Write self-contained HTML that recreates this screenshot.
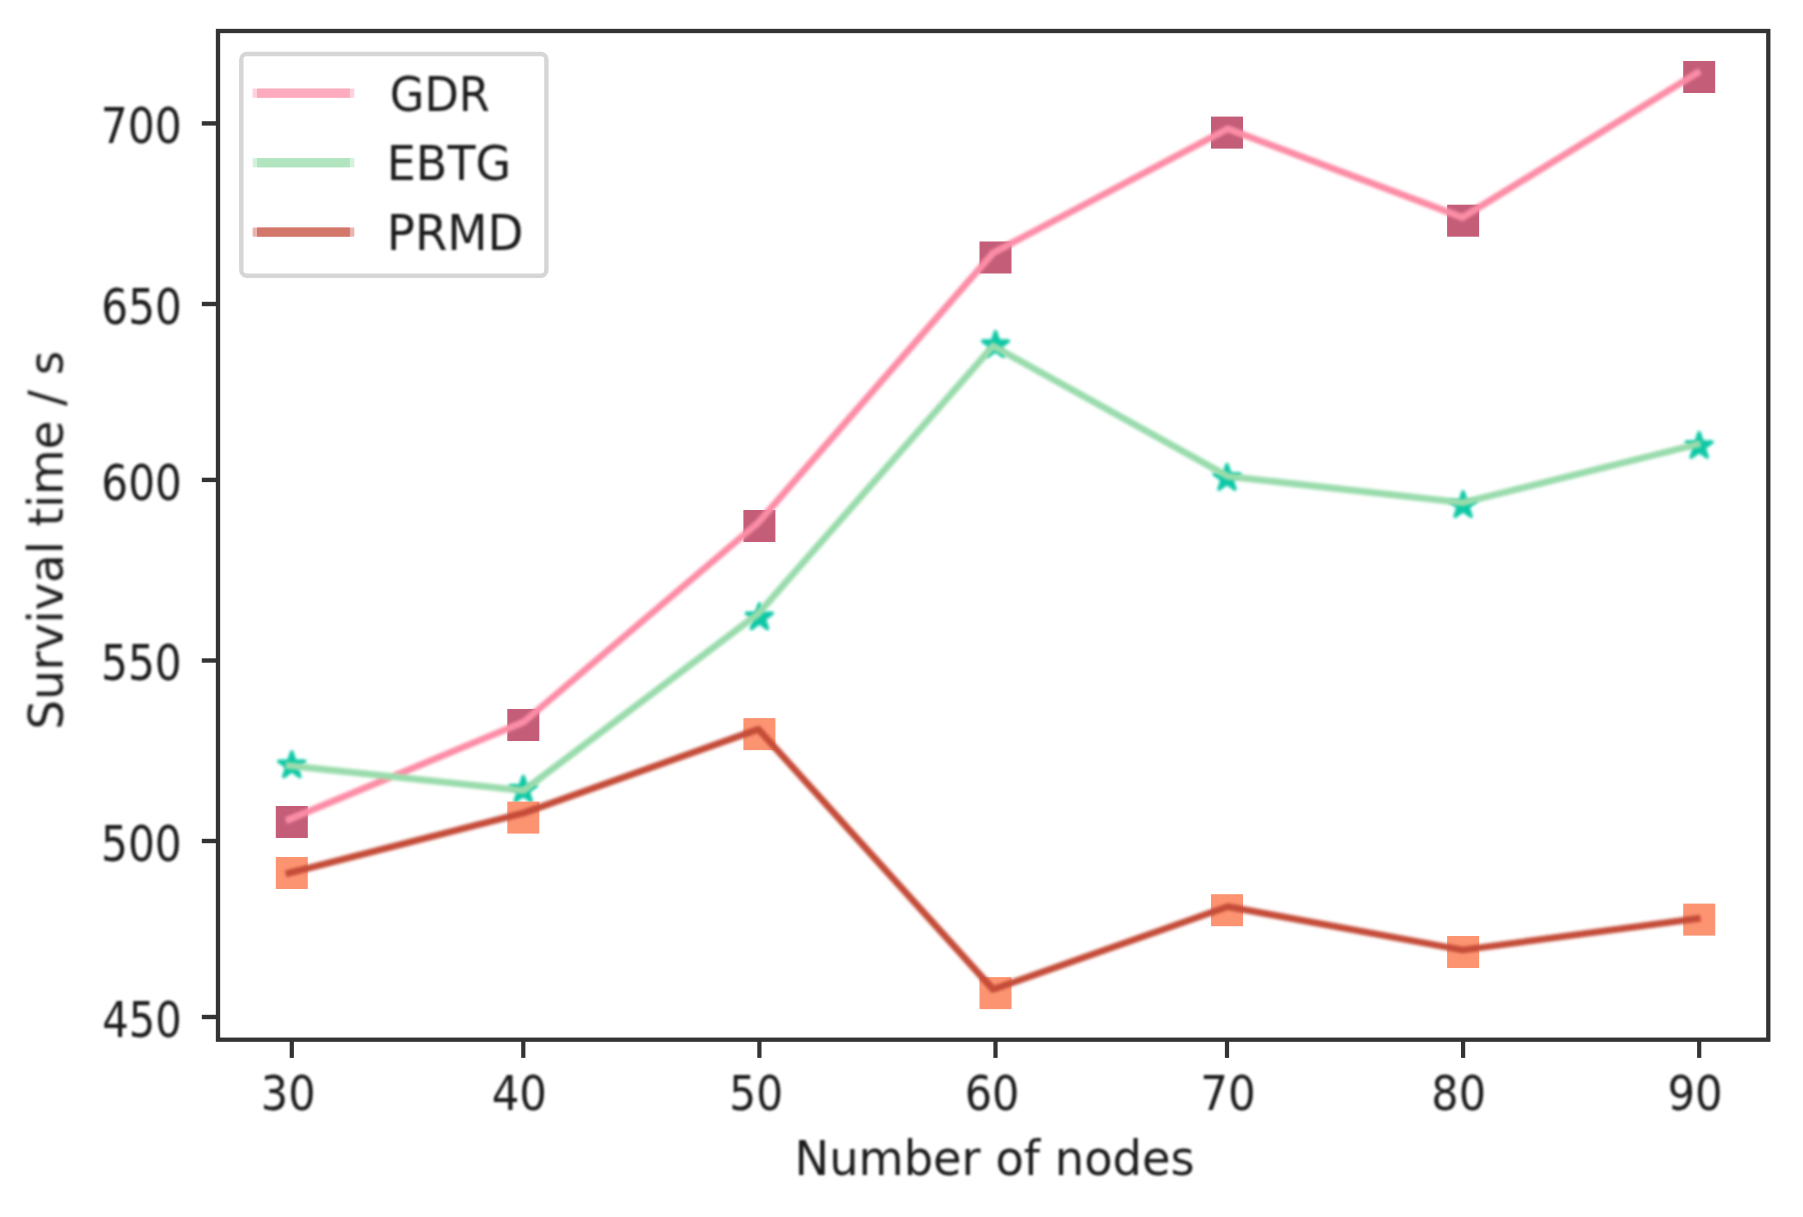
<!DOCTYPE html>
<html><head><meta charset="utf-8"><title>Survival time vs number of nodes</title>
<style>
html,body{margin:0;padding:0;background:#fff;}
body{width:1803px;height:1217px;overflow:hidden;}
svg{display:block;}
svg text{font-family:"DejaVu Sans","Liberation Sans",sans-serif;font-size:100px;}
</style></head><body>
<svg width="1803" height="1217" viewBox="0 0 1803 1217">
<defs>
<filter id="softT" filterUnits="userSpaceOnUse" x="0" y="0" width="1803" height="1217"><feGaussianBlur stdDeviation="1.0"/></filter>
<filter id="softL" filterUnits="userSpaceOnUse" x="0" y="0" width="1803" height="1217"><feGaussianBlur stdDeviation="1.5"/></filter>
</defs>
<rect width="1803" height="1217" fill="#ffffff"/>
<g id="gdr-markers"><rect x="275.80" y="806.00" width="32.0" height="32.0" fill="#c35d78"/><rect x="507.30" y="709.00" width="32.0" height="32.0" fill="#c35d78"/><rect x="743.40" y="510.00" width="32.0" height="32.0" fill="#c35d78"/><rect x="979.50" y="241.50" width="32.0" height="32.0" fill="#c35d78"/><rect x="1211.00" y="116.60" width="32.0" height="32.0" fill="#c35d78"/><rect x="1447.10" y="204.70" width="32.0" height="32.0" fill="#c35d78"/><rect x="1683.20" y="61.00" width="32.0" height="32.0" fill="#c35d78"/></g>
<g id="ebtg-markers" filter="url(#softL)"><polygon points="291.80,752.00 294.83,761.33 304.64,761.33 296.70,767.09 299.74,776.42 291.80,770.66 283.86,776.42 286.90,767.09 278.96,761.33 288.77,761.33" fill="#0cc8a5" stroke="#0cc8a5" stroke-width="3.6" stroke-linejoin="round"/><polygon points="523.30,776.50 526.33,785.83 536.14,785.83 528.20,791.59 531.24,800.92 523.30,795.16 515.36,800.92 518.40,791.59 510.46,785.83 520.27,785.83" fill="#0cc8a5" stroke="#0cc8a5" stroke-width="3.6" stroke-linejoin="round"/><polygon points="759.40,604.00 762.43,613.33 772.24,613.33 764.30,619.09 767.34,628.42 759.40,622.66 751.46,628.42 754.50,619.09 746.56,613.33 756.37,613.33" fill="#0cc8a5" stroke="#0cc8a5" stroke-width="3.6" stroke-linejoin="round"/><polygon points="995.50,331.80 998.53,341.13 1008.34,341.13 1000.40,346.89 1003.44,356.22 995.50,350.46 987.56,356.22 990.60,346.89 982.66,341.13 992.47,341.13" fill="#0cc8a5" stroke="#0cc8a5" stroke-width="3.6" stroke-linejoin="round"/><polygon points="1227.00,464.70 1230.03,474.03 1239.84,474.03 1231.90,479.79 1234.94,489.12 1227.00,483.36 1219.06,489.12 1222.10,479.79 1214.16,474.03 1223.97,474.03" fill="#0cc8a5" stroke="#0cc8a5" stroke-width="3.6" stroke-linejoin="round"/><polygon points="1463.10,491.90 1466.13,501.23 1475.94,501.23 1468.00,506.99 1471.04,516.32 1463.10,510.56 1455.16,516.32 1458.20,506.99 1450.26,501.23 1460.07,501.23" fill="#0cc8a5" stroke="#0cc8a5" stroke-width="3.6" stroke-linejoin="round"/><polygon points="1699.20,432.70 1702.23,442.03 1712.04,442.03 1704.10,447.79 1707.14,457.12 1699.20,451.36 1691.26,457.12 1694.30,447.79 1686.36,442.03 1696.17,442.03" fill="#0cc8a5" stroke="#0cc8a5" stroke-width="3.6" stroke-linejoin="round"/></g>
<g id="prmd-markers"><rect x="275.80" y="857.00" width="32.0" height="32.0" fill="#fd9471"/><rect x="507.30" y="801.60" width="32.0" height="32.0" fill="#fd9471"/><rect x="743.40" y="718.10" width="32.0" height="32.0" fill="#fd9471"/><rect x="979.50" y="977.10" width="32.0" height="32.0" fill="#fd9471"/><rect x="1211.00" y="894.20" width="32.0" height="32.0" fill="#fd9471"/><rect x="1447.10" y="936.00" width="32.0" height="32.0" fill="#fd9471"/><rect x="1683.20" y="903.60" width="32.0" height="32.0" fill="#fd9471"/></g>
<g id="lines" filter="url(#softL)"><polyline points="289.00,819.50 523.70,722.00 758.40,522.50 993.10,253.00 1227.80,128.70 1462.50,217.50 1697.20,73.00" fill="none" stroke="#fc8ca6" stroke-width="6.8" stroke-linecap="square" stroke-linejoin="round"/><polyline points="289.00,765.70 523.70,790.50 758.40,613.50 993.10,346.00 1227.80,476.30 1462.50,502.70 1697.20,444.30" fill="none" stroke="#99dbac" stroke-width="6.8" stroke-linecap="square" stroke-linejoin="round"/><polyline points="289.00,873.00 523.70,813.00 758.40,729.20 993.10,989.40 1227.80,906.60 1462.50,950.00 1697.20,918.60" fill="none" stroke="#c44b37" stroke-width="6.8" stroke-linecap="square" stroke-linejoin="round"/></g>
<g id="axes"><rect x="289.70" y="1039.70" width="4.2" height="18.2" fill="#333333"/><rect x="521.20" y="1039.70" width="4.2" height="18.2" fill="#333333"/><rect x="757.30" y="1039.70" width="4.2" height="18.2" fill="#333333"/><rect x="993.40" y="1039.70" width="4.2" height="18.2" fill="#333333"/><rect x="1224.90" y="1039.70" width="4.2" height="18.2" fill="#333333"/><rect x="1461.00" y="1039.70" width="4.2" height="18.2" fill="#333333"/><rect x="1697.10" y="1039.70" width="4.2" height="18.2" fill="#333333"/><rect x="201.80" y="121.20" width="16.2" height="4.4" fill="#333333"/><rect x="201.80" y="301.80" width="16.2" height="4.4" fill="#333333"/><rect x="201.80" y="477.70" width="16.2" height="4.4" fill="#333333"/><rect x="201.80" y="658.30" width="16.2" height="4.4" fill="#333333"/><rect x="201.80" y="838.80" width="16.2" height="4.4" fill="#333333"/><rect x="201.80" y="1014.80" width="16.2" height="4.4" fill="#333333"/><rect x="218.0" y="31.0" width="1550.3" height="1008.7" fill="none" stroke="#333333" stroke-width="4.3"/></g>
<g id="legend"><rect x="241.3" y="54" width="305.1" height="221.7" rx="5.5" ry="5.5" fill="#ffffff" fill-opacity="0.8" stroke="#d6d6d6" stroke-width="4.4"/><rect x="252.6" y="88.60" width="101.7" height="9.2" fill="#fdabbf" fill-opacity="0.55"/><rect x="257.0" y="88.60" width="92.9" height="9.2" fill="#fdabbf"/><rect x="252.6" y="158.10" width="101.7" height="9.2" fill="#b1e5c0" fill-opacity="0.55"/><rect x="257.0" y="158.10" width="92.9" height="9.2" fill="#b1e5c0"/><rect x="252.6" y="227.50" width="101.7" height="9.2" fill="#d3776b" fill-opacity="0.55"/><rect x="257.0" y="227.50" width="92.9" height="9.2" fill="#d3776b"/></g>
<g id="labels" filter="url(#softT)"><text transform="translate(100.80 143.37) scale(0.4244 0.4898)" textLength="190.88" lengthAdjust="spacingAndGlyphs" fill="#1e1e1e">700</text>
<text transform="translate(101.35 323.97) scale(0.4214 0.4898)" textLength="190.88" lengthAdjust="spacingAndGlyphs" fill="#1e1e1e">650</text>
<text transform="translate(101.35 499.87) scale(0.4214 0.4898)" textLength="190.88" lengthAdjust="spacingAndGlyphs" fill="#1e1e1e">600</text>
<text transform="translate(101.02 680.47) scale(0.4232 0.4898)" textLength="190.88" lengthAdjust="spacingAndGlyphs" fill="#1e1e1e">550</text>
<text transform="translate(101.02 860.97) scale(0.4232 0.4898)" textLength="190.88" lengthAdjust="spacingAndGlyphs" fill="#1e1e1e">500</text>
<text transform="translate(102.22 1036.97) scale(0.4167 0.4898)" textLength="190.88" lengthAdjust="spacingAndGlyphs" fill="#1e1e1e">450</text>
<text transform="translate(260.77 1110.08) scale(0.4309 0.4805)" textLength="127.25" lengthAdjust="spacingAndGlyphs" fill="#1e1e1e">30</text>
<text transform="translate(491.63 1110.08) scale(0.4346 0.4805)" textLength="127.25" lengthAdjust="spacingAndGlyphs" fill="#1e1e1e">40</text>
<text transform="translate(729.33 1110.08) scale(0.4221 0.4805)" textLength="127.25" lengthAdjust="spacingAndGlyphs" fill="#1e1e1e">50</text>
<text transform="translate(964.69 1110.08) scale(0.4299 0.4805)" textLength="127.25" lengthAdjust="spacingAndGlyphs" fill="#1e1e1e">60</text>
<text transform="translate(1200.20 1110.08) scale(0.4364 0.4805)" textLength="127.25" lengthAdjust="spacingAndGlyphs" fill="#1e1e1e">70</text>
<text transform="translate(1431.30 1110.08) scale(0.4298 0.4805)" textLength="127.25" lengthAdjust="spacingAndGlyphs" fill="#1e1e1e">80</text>
<text transform="translate(1667.39 1110.08) scale(0.4341 0.4805)" textLength="127.25" lengthAdjust="spacingAndGlyphs" fill="#1e1e1e">90</text>
<text transform="translate(794.48 1174.89) scale(0.4635 0.4723)" textLength="863.34" lengthAdjust="spacingAndGlyphs" fill="#1e1e1e">Number of nodes</text>
<text transform="translate(62.58 729.64) rotate(-90) scale(0.4675 0.4774)" textLength="810.27" lengthAdjust="spacingAndGlyphs" fill="#1e1e1e">Survival time / s</text>
<text transform="translate(389.84 110.78) scale(0.4464 0.4779)" textLength="223.98" lengthAdjust="spacingAndGlyphs" fill="#1e1e1e">GDR</text>
<text transform="translate(386.82 180.28) scale(0.4598 0.4779)" textLength="270.37" lengthAdjust="spacingAndGlyphs" fill="#1e1e1e">EBTG</text>
<text transform="translate(386.75 250.20) scale(0.4667 0.5014)" textLength="293.07" lengthAdjust="spacingAndGlyphs" fill="#1e1e1e">PRMD</text></g>
</svg>
</body></html>
